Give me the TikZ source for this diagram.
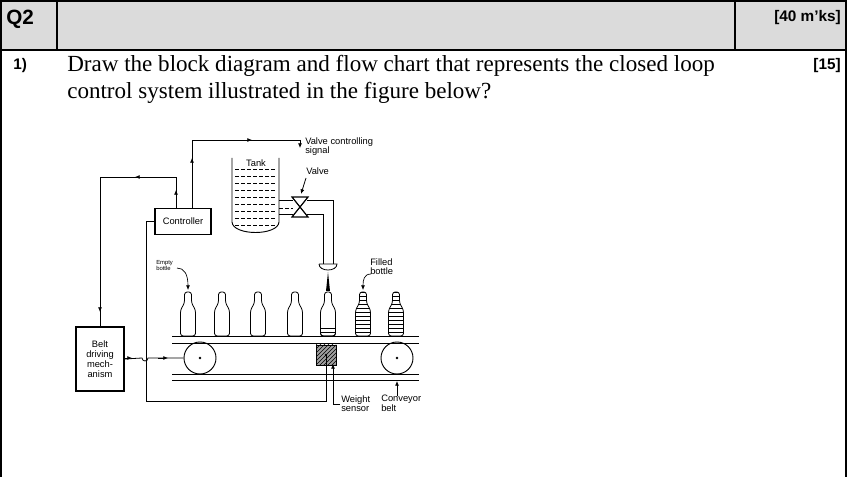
\documentclass[tikz,border=0pt]{standalone}
\usepackage{fontspec}
\setmainfont{Liberation Serif}
\setsansfont{Liberation Sans}
\usetikzlibrary{arrows.meta,patterns}
\begin{document}
\begin{tikzpicture}[x=0.75pt,y=-0.75pt,
  lab/.style={font=\sffamily\fontsize{7}{7.4}\selectfont,inner sep=0pt,align=left},
  tiny/.style={font=\sffamily\fontsize{4.4}{4.6}\selectfont,inner sep=0pt,align=left},
  blk/.style={draw,line width=0.9pt,font=\sffamily\fontsize{7}{7.6}\selectfont,align=center,inner sep=0pt},
  wire/.style={line width=0.6pt},
  ar/.style={-{Latex[length=3.5pt,width=3pt]},line width=0.6pt},
  bottle/.pic={\draw[line width=0.6pt,rounded corners=2pt,pic actions] (-7.5,0) -- (-7.5,-26) -- (-3.5,-33) -- (-3.5,-44) -- (3.5,-44) -- (3.5,-33) -- (7.5,-26) -- (7.5,0) -- cycle;}
]
\useasboundingbox (0,0) rectangle (847,477);
% table
\fill[gray!28] (1,1) rectangle (846,50);
\draw[line width=0.8pt] (1,477) -- (1,1) -- (846,1) -- (846,477);
\draw[line width=0.8pt] (1,50) -- (846,50);
\draw[line width=0.8pt] (57,1) -- (57,50) (735,1) -- (735,50);
\node[font=\sffamily\bfseries\fontsize{15.5}{17}\selectfont,anchor=west,inner sep=0pt] (q) at (6,19) {Q2};
\node[font=\sffamily\bfseries\fontsize{11.5}{13}\selectfont,anchor=east,inner sep=0pt] (m) at (841,18) {[40 m’ks]};
\node[font=\sffamily\bfseries\fontsize{11.5}{13}\selectfont,anchor=west,inner sep=0pt] (n1) at (13,66) {1)};
\node[font=\sffamily\bfseries\fontsize{11.5}{13}\selectfont,anchor=east,inner sep=0pt] (m2) at (841,66) {[15]};
\node[font=\fontsize{17.3}{20.5}\selectfont,anchor=north west,align=left,inner sep=0pt] (qt) at (67,55) {Draw the block diagram and flow chart that represents the closed loop\\control system illustrated in the figure below?};
% blocks
\node[blk,minimum width=42pt,minimum height=20pt] (ctrl) at (183,221.5) {Controller};
\node[blk,minimum width=36pt,minimum height=48pt] (belt) at (100,359) {Belt\\driving\\mech-\\anism};
% controller to belt
\coordinate (c1) at (176,177); \coordinate (c2) at (100,177);
\draw[wire] (176,208) -- (c1) -- (c2) -- (belt.north);
\draw[ar] (176,200) -- (176,190);
\draw[ar] (145,177) -- (135,177);
\draw[ar] (100,300) -- (100,312);
% valve signal
\coordinate (v1) at (192,140); \coordinate (v2) at (300,140);
\draw[wire] (192,208) -- (v1) -- (v2) -- (300,146);
\draw[ar] (192,168) -- (192,158);
\draw[ar] (240,140) -- (252,140);
\draw[ar] (300,140) -- (300,148);
\node[lab,anchor=north west] (vcs) at (305,137) {Valve controlling\\signal};
\node[lab,anchor=north west] (vl) at (306,167) {Valve};
% tank
\draw[line width=0.7pt] (232,158) -- (232,222) .. controls (233,236) and (278,236) .. (279,222) -- (279,158);
\node[lab] (tank) at (256,163) {Tank};
\foreach \y in {169,176,183,190,197,204,211,218,225}
  \draw[line width=0.6pt,dash pattern=on 3pt off 1.5pt] (235,\y) -- (276,\y);
\draw[line width=0.6pt,dash pattern=on 3pt off 1.5pt] (279,208) -- (293,208);
% valve
\draw[line width=0.9pt] (292,197) -- (308,197) -- (292,217) -- (308,217) -- cycle;
\node[inner sep=0pt] (valve) at (300,207) {};
\draw[ar] (306,178) -- (301,194);
% pipes
\draw[wire] (279,200) -- (293,200);
\draw[wire] (279,214) -- (293,214);
\draw[wire] (307,200) -- (333,200) -- (333,264);
\draw[wire] (307,214) -- (323,214) -- (323,264);
\draw[wire] (319,264) -- (337,264) .. controls (337,272) and (319,272) .. (319,264);
\fill (328,272) -- (326,291) -- (330,291) -- cycle;
% belt
\draw[wire] (172,336) -- (419,336) (172,343) -- (419,343) (172,374) -- (419,374) (172,380) -- (419,380);
\node[draw,circle,line width=0.7pt,minimum size=24pt,inner sep=0pt] (r1) at (200,358) {};
\node[draw,circle,line width=0.7pt,minimum size=24pt,inner sep=0pt] (r2) at (397,358) {};
\fill (r1) circle (1.3) (r2) circle (1.3);
% sensor
\node[draw,line width=0.6pt,minimum size=15pt,inner sep=0pt,fill=gray!75,postaction={pattern=north east lines}] (sens) at (326,355) {};
\fill (326,355) circle (1.4);
% belt driving link with hop
\draw[wire] (belt.east) -- (142,358) arc (180:0:3) -- (r1.west);
\draw[ar] (158,358) -- (168,358);
\draw[ar] (124,358) -- (132,358);
% sensor wire
\coordinate (s1) at (326,401); \coordinate (s2) at (146,401); \coordinate (s3) at (146,221);
\draw[wire] (sens.center) -- (s1) -- (s2) -- (s3) -- (ctrl.west|-s3);
% bottles
\foreach \x in {188,222,258,295,328} \pic at (\x,336) {bottle};
\foreach \x in {363,396} \pic[pattern=horizontal lines] at (\x,336) {bottle};
\begin{scope}
\clip (315,325) rectangle (341,336);
\pic[pattern=horizontal lines] at (328,336) {bottle};
\end{scope}
% labels
\node[tiny,anchor=north west] (eb) at (156,260) {Empty\\bottle};
\draw[ar,line width=0.5pt] (177,268) .. controls (184,268) and (188,274) .. (188,290);
\node[lab,anchor=north west] (fb) at (370,258) {Filled\\bottle};
\draw[ar,line width=0.5pt] (371,274) .. controls (364,274) and (363,280) .. (363,290);
\coordinate (w1) at (333,404);
\draw[wire] (340,404) -- (w1);
\draw[ar] (w1) -- (333,364);
\node[lab,anchor=north west] (ws) at (341,395) {Weight\\sensor};
\draw[ar] (397,396) -- (397,381);
\node[lab,anchor=north west] (cb) at (381,395) {Conveyor\\belt};
\end{tikzpicture}
\end{document}
